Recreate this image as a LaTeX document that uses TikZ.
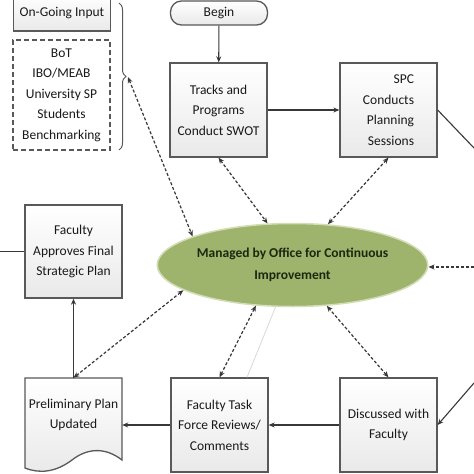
\documentclass[tikz,border=0pt]{standalone}
\usepackage{fontspec}
\setmainfont{Carlito}
\usetikzlibrary{arrows.meta, shapes.geometric, decorations.pathreplacing}
\definecolor{boxedge}{HTML}{595959}
\definecolor{boxfill}{HTML}{E9E9E9}
\definecolor{linkgray}{HTML}{383838}
\definecolor{officegreen}{HTML}{9EB36B}
\definecolor{officerim}{HTML}{D3DDB5}
\definecolor{greentext}{HTML}{1C2810}
\definecolor{faintline}{HTML}{D9D9D9}

\tikzset{
  stepbox/.style={draw=boxedge, line width=1.3pt, top color=white, bottom color=boxfill,
    minimum width=97pt, minimum height=94pt, inner sep=2pt, align=center,
    text=black!90, font=\fontsize{13.5}{20.5}\selectfont},
  flow/.style={draw=linkgray, line width=1.1pt, -{Stealth[length=6pt,width=5pt]}},
  link/.style={draw=linkgray, line width=1.2pt, dash pattern=on 3pt off 2pt,
    {Stealth[length=6pt,width=5pt]}-{Stealth[length=6pt,width=5pt]}},
}

\begin{document}
\begin{tikzpicture}[x=1pt, y=-1pt]
  \clip (0,0) rectangle (474,474);
  \fill[white] (0,0) rectangle (474,474);

  % Input column
  \node[stepbox, minimum height=36pt] (ongoing) at (62,13) {On-Going Input};
  \node[stepbox, minimum height=110pt, dash pattern=on 5pt off 3pt,
    top color=white, bottom color=white] (sources) at (61.5,95)
    {BoT\\IBO/MEAB\\University SP\\Students\\Benchmarking};
  \draw[boxedge, line width=1pt, decorate, decoration={brace, amplitude=7pt}] (119,3) -- (119,150);
  \coordinate (bracetip) at (128,77);

  % Top row
  \node[stepbox, minimum height=24pt, rounded corners=11pt] (begin) at (219,13) {Begin};
  \node[stepbox] (tracks) at (218.5,110) {Tracks and\\Programs\\Conduct SWOT};
  \node[stepbox, align=right] (spc) at (388.5,110) {SPC\\Conducts\\Planning\\Sessions};

  % Hub
  \node[ellipse, fill=officegreen, draw=officerim, line width=1.5pt, minimum width=211pt,
    minimum height=83pt, inner sep=0pt, align=center, text=greentext,
    font=\fontsize{13.5}{22}\selectfont\bfseries] (hub) at (292.5,265)
    {Managed by Office for Continuous\\Improvement};

  % Left column
  \node[stepbox, minimum height=93pt] (approves) at (73.5,251.5) {Faculty\\Approves Final\\Strategic Plan};

  % Bottom row: document shape first, then its text
  \draw[draw=boxedge, line width=1.3pt, top color=white, bottom color=boxfill]
    (25,378) -- (122,378) -- (122,460) .. controls (104,446) and (86,449) .. (72,460)
    .. controls (56,472) and (40,474) .. (25,468) -- cycle;
  \node[minimum width=97pt, minimum height=74pt, inner sep=2pt, align=center,
    text=black!90, font=\fontsize{13.5}{20.5}\selectfont] (prelim) at (73.5,415)
    {Preliminary Plan\\Updated};
  \node[stepbox] (taskforce) at (219.5,425) {Faculty Task\\Force Reviews/\\Comments};
  \node[stepbox] (discussed) at (388.5,425) {Discussed with\\Faculty};

  % Edge of the page
  \coordinate (spcout) at (474,148);
  \coordinate (rightin) at (474,267);
  \coordinate (discin) at (474,383);
  \coordinate (leftin) at (0,251.5);

  % Flow
  \draw[flow] (begin) -- (tracks);
  \draw[flow] (tracks) -- (spc);
  \draw[draw=linkgray, line width=1.1pt] (spc.east) -- (spcout);
  \draw[flow] (discin) -- (discussed.east);
  \draw[flow] (discussed) -- (taskforce);
  \draw[flow] (taskforce.west) -- (prelim.east |- taskforce.west);
  \draw[flow] (prelim.north) -- (approves.south);
  \draw[draw=linkgray, line width=1.1pt] (leftin) -- (approves.west);

  % Links with the hub
  \draw[link] (bracetip) -- (hub.164);
  \draw[link] (tracks.south) -- (hub.121);
  \draw[link] (spc.south) -- (hub.49);
  \draw[link] (prelim.north) -- (hub.193);
  \draw[link] (taskforce.north) -- (hub.228);
  \draw[link] (discussed.north) -- (hub.310);
  \draw[draw=linkgray, line width=1.2pt, dash pattern=on 3pt off 2pt,
    -{Stealth[length=6pt,width=5pt]}] (rightin) -- (hub.east |- rightin);
  \draw[faintline, line width=0.8pt] (taskforce.60) -- (hub.248);
\end{tikzpicture}
\end{document}
